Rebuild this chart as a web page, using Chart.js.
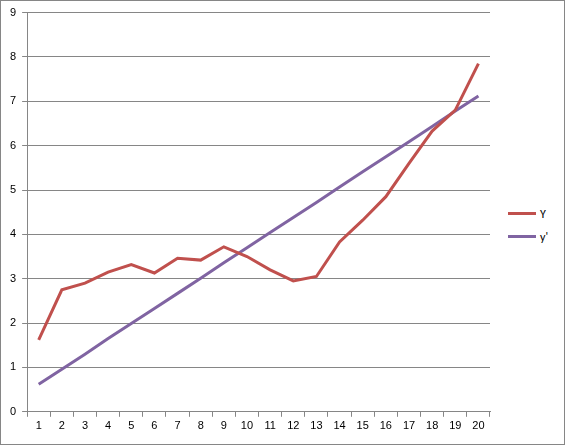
<!DOCTYPE html>
<html>
<head>
<script src="https://cdn.jsdelivr.net/npm/chart.js@4/dist/chart.umd.min.js"></script>
<style>
body { margin: 0; background: #fff; font-family: Calibri, "Liberation Sans", Arial, sans-serif; }
#frame { position: absolute; left: 0; top: 0; width: 563px; height: 443px; border: 1px solid #868686; }
#wrap { position: absolute; left: 0; top: 0; width: 500px; height: 440px; }
#legend { position: absolute; left: 508px; top: 202px; font-size: 12px; }
.item { height: 23px; display: flex; align-items: center; }
.swatch { width: 28px; height: 3px; margin-right: 4px; }
</style>
</head>
<body>
<div id="frame"></div>
<div id="wrap"><canvas id="chart"></canvas></div>
<div id="legend">
  <div class="item"><span class="swatch" style="background:#c0504d"></span>Y</div>
  <div class="item"><span class="swatch" style="background:#8064a2"></span>y'</div>
</div>
<script>
const categories = ['1','2','3','4','5','6','7','8','9','10','11','12','13','14','15','16','17','18','19','20'];
const seriesY = [1.62, 2.75, 2.9, 3.15, 3.32, 3.13, 3.46, 3.42, 3.72, 3.5, 3.2, 2.95, 3.05, 3.83, 4.32, 4.85, 5.6, 6.33, 6.8, 7.85];
const seriesYPrime = [0.62, 0.96, 1.3, 1.65, 1.99, 2.33, 2.67, 3.01, 3.36, 3.7, 4.04, 4.38, 4.72, 5.07, 5.41, 5.75, 6.09, 6.43, 6.78, 7.12];

const ctx = document.getElementById('chart');
const chart = new Chart(ctx, {
    type: 'line',
    data: {
        labels: categories,
        datasets: [
            { label: 'Y', data: seriesY, borderColor: '#c0504d', borderWidth: 3, pointRadius: 0, tension: 0 },
            { label: "y'", data: seriesYPrime, borderColor: '#8064a2', borderWidth: 3, pointRadius: 0, tension: 0 }
        ]
    },
    options: {
        responsive: true,
        maintainAspectRatio: false,
        animation: false,
        layout: { padding: { left: 4, top: 12, right: 10, bottom: 4 } },
        plugins: { legend: { display: false }, tooltip: { enabled: false } },
        scales: {
            x: {
                offset: true,
                grid: { offset: true, drawOnChartArea: false, color: '#868686', tickLength: 5 },
                border: { color: '#868686' },
                ticks: { color: '#000', font: { size: 11 }, maxRotation: 0, autoSkip: false }
            },
            y: {
                min: 0,
                max: 9,
                ticks: { stepSize: 1, color: '#000', font: { size: 11 }, padding: 6 },
                grid: { color: '#868686', tickLength: 5 },
                border: { color: '#868686' }
            }
        }
    }
});
</script>
</body>
</html>
